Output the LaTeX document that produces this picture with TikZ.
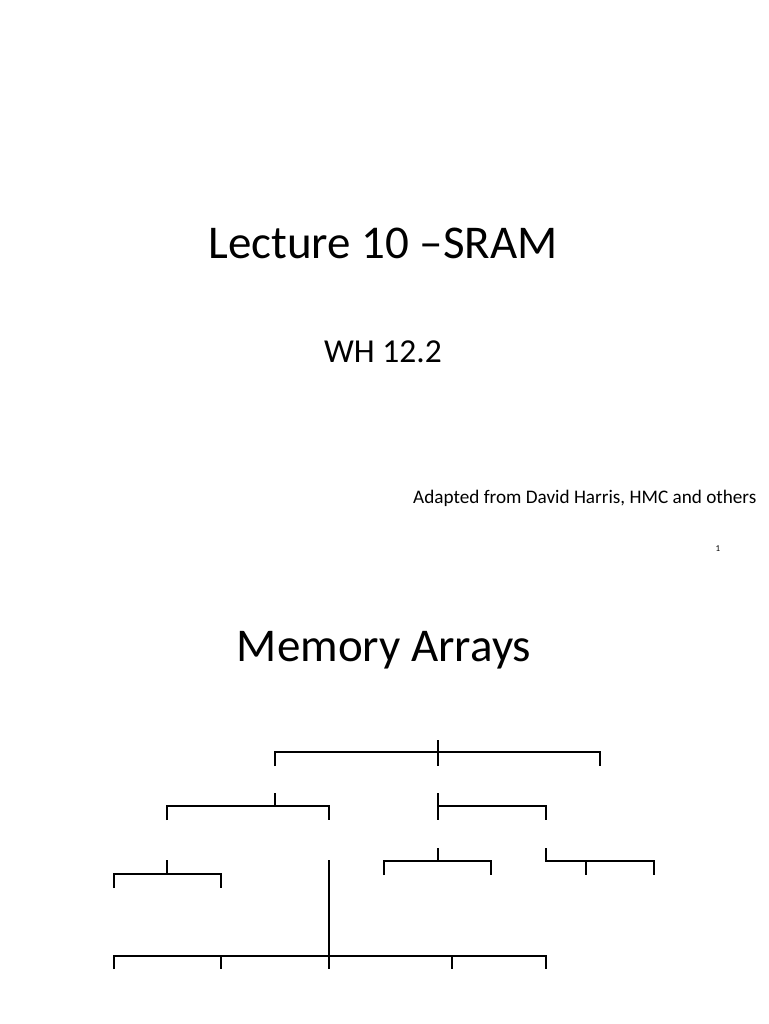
\documentclass[tikz,border=0pt]{standalone}
\usepackage{fontspec}
\setmainfont{Carlito}
\begin{document}
\begin{tikzpicture}[x=1pt,y=-1pt,ln/.style={line width=1.1pt},thk/.style={line width=1.8pt}]
\useasboundingbox (0,0) rectangle (768,1024);
\node (t1) at (383,243) {\fontsize{47}{52}\selectfont Lecture 10 –SRAM};
\node (t2) at (383,352) {\fontsize{33.5}{38}\selectfont WH 12.2};
\node[anchor=base west,inner sep=0] (t3) at (413,503) {\fontsize{19.2}{22}\selectfont Adapted from David Harris, HMC and others};
\node (t4) at (718,549) {\fontsize{9}{10}\selectfont 1};
\node (t5) at (384,650) {\fontsize{47}{52}\selectfont Memory Arrays};
% level 1
\draw[thk] (275,766) -- (275,752) -- (600,752) -- (600,766);
\draw[thk] (438,740) -- (438,766);
% level 2
\draw[ln] (275,793) -- (275,806);
\draw[ln] (167,820) -- (167,806) -- (329,806) -- (329,820);
\draw[ln] (438,793) -- (438,820);
\draw[ln] (438,806) -- (546,806) -- (546,820);
% level 3
\draw[ln] (167,860) -- (167,874);
\draw[ln] (114,888) -- (114,874) -- (221,874) -- (221,888);
\draw[ln] (438,848) -- (438,861);
\draw[ln] (384,875) -- (384,861) -- (491,861) -- (491,875);
\draw[ln] (546,848) -- (546,861) -- (654,861) -- (654,875);
\draw[ln] (586,861) -- (586,875);
\draw[ln] (329,860) -- (329,969);
% bottom
\draw[ln] (114,969) -- (114,956) -- (546,956) -- (546,969);
\draw[ln] (221,956) -- (221,969);
\draw[ln] (452,956) -- (452,969);
\end{tikzpicture}
\end{document}
